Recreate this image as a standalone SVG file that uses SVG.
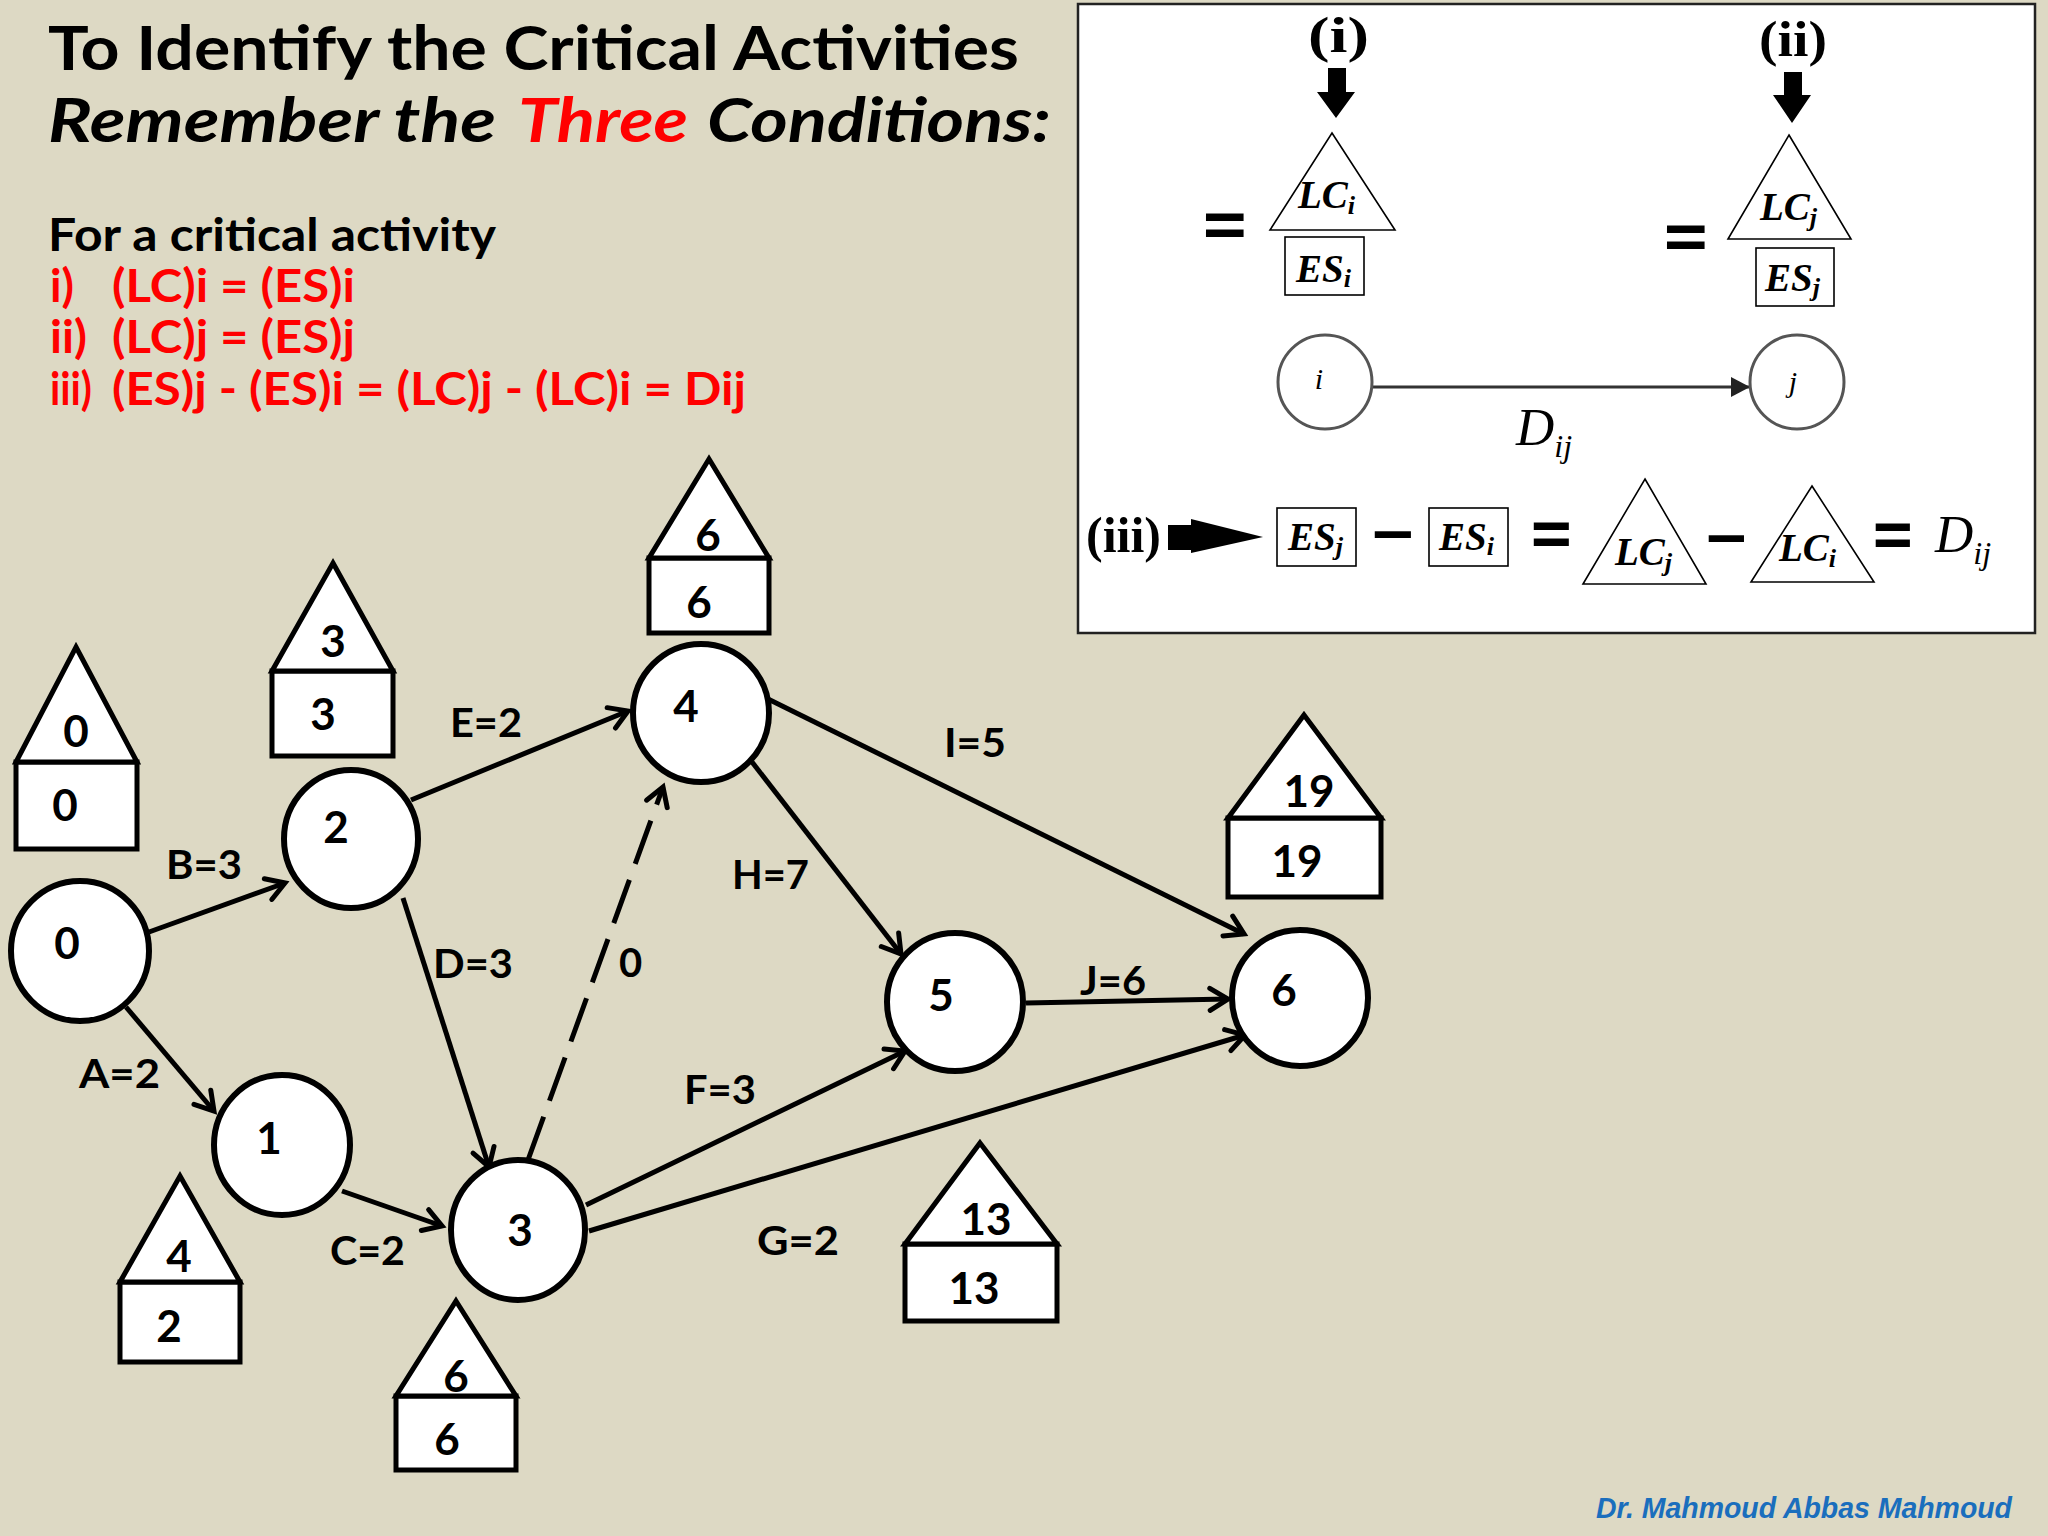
<svg xmlns="http://www.w3.org/2000/svg" width="2048" height="1536" viewBox="0 0 2048 1536">
<defs>
<style>
.sans{font-family:Lato,'Open Sans','Liberation Sans',sans-serif;font-weight:bold}
.red{fill:#FF0000}
.nd{fill:#fff;stroke:#000;stroke-width:6}
.hs{fill:#fff;stroke:#000;stroke-width:5;stroke-linejoin:miter}
.num{font-family:Lato,'Open Sans','Liberation Sans',sans-serif;font-weight:bold;font-size:44px;text-anchor:middle;fill:#000}
.edge{stroke:#000;stroke-width:5;fill:none;marker-end:url(#chev)}
.dash{stroke-dasharray:46 17}
.lbl{font-family:Lato,'Open Sans','Liberation Sans',sans-serif;font-weight:bold;font-size:40px;fill:#000}
.tm{font-family:'Liberation Serif','Times New Roman',serif;fill:#000}
.bi{font-weight:bold;font-style:italic;font-size:39px}
.op{stroke:#000;stroke-width:1.8}
.thin{fill:#fff;stroke:#000;stroke-width:1.6}
</style>
<marker id="chev" markerUnits="userSpaceOnUse" viewBox="-24 -15 30 30" refX="0" refY="0" markerWidth="30" markerHeight="30" orient="auto">
<path d="M-18,-11 L0,0 L-18,11" fill="none" stroke="#000" stroke-width="5" stroke-linecap="round" stroke-linejoin="miter"/>
</marker>
<marker id="tri" markerUnits="userSpaceOnUse" viewBox="-20 -11 22 22" refX="0" refY="0" markerWidth="22" markerHeight="22" orient="auto">
<path d="M-19,-10 L0,0 L-19,10 Z" fill="#222"/>
</marker>
</defs>

<rect width="2048" height="1536" fill="#DDD9C4"/>

<g id="title">
<text class="sans" x="48" y="70" font-size="62" textLength="971" lengthAdjust="spacingAndGlyphs">To Identify the Critical Activities</text>
<text class="sans" x="48" y="142" font-size="62" font-style="italic" textLength="448" lengthAdjust="spacingAndGlyphs">Remember the</text>
<text class="sans red" x="518" y="142" font-size="62" font-style="italic" textLength="170" lengthAdjust="spacingAndGlyphs">Three</text>
<text class="sans" x="707" y="142" font-size="62" font-style="italic" textLength="344" lengthAdjust="spacingAndGlyphs">Conditions:</text>
</g>

<g id="conditions">
<text class="sans" x="48" y="251" font-size="46" textLength="448" lengthAdjust="spacingAndGlyphs">For a critical activity</text>
<text class="sans red" x="50" y="302" font-size="46" textLength="24" lengthAdjust="spacingAndGlyphs">i)</text>
<text class="sans red" x="112" y="302" font-size="46" textLength="243" lengthAdjust="spacingAndGlyphs">(LC)i = (ES)i</text>
<text class="sans red" x="50" y="353" font-size="46" textLength="37" lengthAdjust="spacingAndGlyphs">ii)</text>
<text class="sans red" x="112" y="353" font-size="46" textLength="243" lengthAdjust="spacingAndGlyphs">(LC)j = (ES)j</text>
<text class="sans red" x="50" y="405" font-size="46" textLength="42" lengthAdjust="spacingAndGlyphs">iii)</text>
<text class="sans red" x="112" y="405" font-size="46" textLength="634" lengthAdjust="spacingAndGlyphs">(ES)j - (ES)i = (LC)j - (LC)i = Dij</text>
</g>

<g id="inset">
<rect x="1078" y="4" width="957" height="629" fill="#fff" stroke="#222" stroke-width="2.5"/>
<text class="tm" x="1308" y="52" font-size="50" font-weight="bold" textLength="61" lengthAdjust="spacingAndGlyphs">(i)</text>
<polygon points="1328,68 1346,68 1346,92 1355,92 1336,118 1317,92 1328,92" fill="#000"/>
<text class="tm" x="1759" y="56" font-size="50" font-weight="bold" textLength="68" lengthAdjust="spacingAndGlyphs">(ii)</text>
<polygon points="1784,72 1802,72 1802,95 1811,95 1792,123 1773,95 1784,95" fill="#000"/>
<text class="tm op" x="1203" y="252" font-size="80" font-weight="bold" textLength="44" lengthAdjust="spacingAndGlyphs">=</text>
<polygon class="thin" points="1332,133 1395,230 1270,230"/>
<text class="tm bi" x="1298" y="208">LC<tspan font-size="26" dy="6">i</tspan></text>
<rect class="thin" x="1285" y="237" width="79" height="58"/>
<text class="tm bi" x="1296" y="282">ES<tspan font-size="26" dy="5">i</tspan></text>
<text class="tm op" x="1664" y="264" font-size="80" font-weight="bold" textLength="44" lengthAdjust="spacingAndGlyphs">=</text>
<polygon class="thin" points="1789,135 1851,239 1728,239"/>
<text class="tm bi" x="1760" y="220">LC<tspan font-size="26" dy="6">j</tspan></text>
<rect class="thin" x="1756" y="248" width="78" height="58"/>
<text class="tm bi" x="1765" y="291">ES<tspan font-size="26" dy="5">j</tspan></text>
<line x1="1372" y1="387" x2="1750" y2="387" stroke="#333" stroke-width="3" marker-end="url(#tri)"/>
<circle cx="1325" cy="382" r="47" fill="#fff" stroke="#555" stroke-width="3"/>
<text class="tm" x="1319" y="389" font-size="30" font-style="italic" text-anchor="middle">i</text>
<circle cx="1797" cy="382" r="47" fill="#fff" stroke="#555" stroke-width="3"/>
<text class="tm" x="1793" y="392" font-size="30" font-style="italic" text-anchor="middle">j</text>
<text class="tm" x="1516" y="445" font-size="53" font-style="italic">D<tspan font-size="32" dy="12">ij</tspan></text>
<text class="tm" x="1086" y="552" font-size="50" font-weight="bold" textLength="75" lengthAdjust="spacingAndGlyphs">(iii)</text>
<polygon points="1168,525 1191,525 1191,519 1263,537 1191,553 1191,550 1168,550" fill="#000"/>
<rect class="thin" x="1277" y="508" width="79" height="58"/>
<text class="tm bi" x="1288" y="550">ES<tspan font-size="26" dy="5">j</tspan></text>
<text class="tm op" x="1372" y="558" font-size="70" font-weight="bold" textLength="42" lengthAdjust="spacingAndGlyphs">−</text>
<rect class="thin" x="1429" y="508" width="79" height="58"/>
<text class="tm bi" x="1439" y="550">ES<tspan font-size="26" dy="5">i</tspan></text>
<text class="tm op" x="1531" y="561" font-size="80" font-weight="bold" textLength="41" lengthAdjust="spacingAndGlyphs">=</text>
<polygon class="thin" points="1645,479 1706,584 1583,584"/>
<text class="tm bi" x="1615" y="565">LC<tspan font-size="26" dy="6">j</tspan></text>
<text class="tm op" x="1706" y="562" font-size="70" font-weight="bold" textLength="41" lengthAdjust="spacingAndGlyphs">−</text>
<polygon class="thin" points="1812,486 1874,582 1751,582"/>
<text class="tm bi" x="1779" y="561">LC<tspan font-size="26" dy="6">i</tspan></text>
<text class="tm op" x="1873" y="562" font-size="80" font-weight="bold" textLength="40" lengthAdjust="spacingAndGlyphs">=</text>
<text class="tm" x="1935" y="552" font-size="53" font-style="italic">D<tspan font-size="32" dy="12">ij</tspan></text>
</g>

<g id="connectors">
<line class="edge" x1="126" y1="1007" x2="214" y2="1111"/>
<line class="edge" x1="149" y1="932" x2="285" y2="883"/>
<line class="edge" x1="342" y1="1191" x2="442" y2="1226"/>
<line class="edge" x1="403" y1="898" x2="489" y2="1167"/>
<line class="edge" x1="411" y1="800" x2="628" y2="711"/>
<line class="edge" x1="586" y1="1205" x2="905" y2="1051"/>
<line class="edge" x1="589" y1="1231" x2="1245" y2="1035"/>
<line class="edge" x1="752" y1="762" x2="901" y2="954"/>
<line class="edge" x1="768" y1="699" x2="1244" y2="934"/>
<line class="edge" x1="1026" y1="1003" x2="1228" y2="999"/>
<line class="edge dash" x1="528" y1="1160" x2="663" y2="787"/>
<text class="lbl" x="79" y="1088" textLength="81" lengthAdjust="spacingAndGlyphs">A=2</text>
<text class="lbl" x="166" y="879" textLength="76" lengthAdjust="spacingAndGlyphs">B=3</text>
<text class="lbl" x="330" y="1265" textLength="75" lengthAdjust="spacingAndGlyphs">C=2</text>
<text class="lbl" x="433" y="978" textLength="80" lengthAdjust="spacingAndGlyphs">D=3</text>
<text class="lbl" x="450" y="737" textLength="72" lengthAdjust="spacingAndGlyphs">E=2</text>
<text class="lbl" x="684" y="1104" textLength="72" lengthAdjust="spacingAndGlyphs">F=3</text>
<text class="lbl" x="757" y="1255" textLength="82" lengthAdjust="spacingAndGlyphs">G=2</text>
<text class="lbl" x="732" y="889" textLength="77" lengthAdjust="spacingAndGlyphs">H=7</text>
<text class="lbl" x="944" y="757" textLength="62" lengthAdjust="spacingAndGlyphs">I=5</text>
<text class="lbl" x="1080" y="995" textLength="66" lengthAdjust="spacingAndGlyphs">J=6</text>
<text class="lbl" x="619" y="977">0</text>
</g>

<g id="node-0">
<ellipse class="nd" cx="80" cy="951" rx="69" ry="70"/>
<text class="num" x="67" y="959">0</text>
<rect class="hs" x="16" y="762" width="121" height="87"/>
<polygon class="hs" points="76,647 137,762 16,762"/>
<text class="num" x="76" y="747">0</text>
<text class="num" x="65" y="821">0</text>
</g>

<g id="node-1">
<ellipse class="nd" cx="282" cy="1145" rx="68" ry="70"/>
<text class="num" x="269" y="1154">1</text>
<rect class="hs" x="120" y="1282" width="120" height="80"/>
<polygon class="hs" points="180,1176 240,1282 120,1282"/>
<text class="num" x="179" y="1272">4</text>
<text class="num" x="169" y="1342">2</text>
</g>

<g id="node-2">
<ellipse class="nd" cx="351" cy="839" rx="67" ry="69"/>
<text class="num" x="336" y="843">2</text>
<rect class="hs" x="272" y="671" width="121" height="85"/>
<polygon class="hs" points="333,563 393,671 272,671"/>
<text class="num" x="333" y="657">3</text>
<text class="num" x="323" y="730">3</text>
</g>

<g id="node-3">
<ellipse class="nd" cx="518" cy="1230" rx="67" ry="70"/>
<text class="num" x="520" y="1246">3</text>
<rect class="hs" x="396" y="1396" width="120" height="74"/>
<polygon class="hs" points="456,1301 516,1396 396,1396"/>
<text class="num" x="456" y="1392">6</text>
<text class="num" x="447" y="1455">6</text>
</g>

<g id="node-4">
<ellipse class="nd" cx="701" cy="713" rx="68" ry="69"/>
<text class="num" x="686" y="722">4</text>
<rect class="hs" x="649" y="558" width="120" height="75"/>
<polygon class="hs" points="709,459 769,558 649,558"/>
<text class="num" x="708" y="551">6</text>
<text class="num" x="699" y="618">6</text>
</g>

<g id="node-5">
<ellipse class="nd" cx="955" cy="1002" rx="68" ry="69"/>
<text class="num" x="941" y="1011">5</text>
<rect class="hs" x="905" y="1244" width="152" height="77"/>
<polygon class="hs" points="980,1143 1057,1244 905,1244"/>
<text class="num" x="986" y="1235">13</text>
<text class="num" x="974" y="1304">13</text>
</g>

<g id="node-6">
<ellipse class="nd" cx="1300" cy="998" rx="68" ry="68"/>
<text class="num" x="1284" y="1006">6</text>
<rect class="hs" x="1228" y="818" width="153" height="79"/>
<polygon class="hs" points="1304,715 1381,818 1228,818"/>
<text class="num" x="1309" y="807">19</text>
<text class="num" x="1297" y="877">19</text>
</g>

<text x="1596" y="1518" font-family="'Liberation Sans',Arial,sans-serif" font-weight="bold" font-style="italic" font-size="29" fill="#1A6EBD" textLength="416" lengthAdjust="spacingAndGlyphs">Dr. Mahmoud Abbas Mahmoud</text>
</svg>
